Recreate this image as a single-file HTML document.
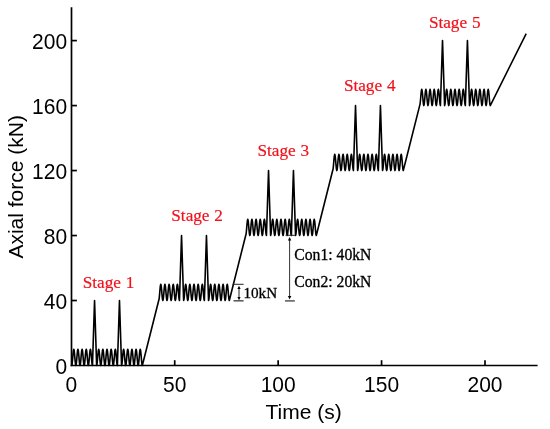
<!DOCTYPE html>
<html><head><meta charset="utf-8"><style>
html,body{margin:0;padding:0;background:#fff;}
body{width:550px;height:429px;overflow:hidden;}
svg{display:block;}
.s{font-family:"Liberation Sans",Arial,sans-serif;font-size:21px;fill:#000;}
.r{font-family:"Liberation Serif","Times New Roman",serif;font-size:17.2px;word-spacing:0.6px;fill:#f2111b;stroke:#f2111b;stroke-width:0.2px;}
.t{font-family:"Liberation Serif","Times New Roman",serif;font-size:15.7px;fill:#000;stroke:#000;stroke-width:0.3px;}
.t2{font-size:15.2px;}
</style></head><body>
<svg width="550" height="429" viewBox="0 0 550 429">
<rect width="550" height="429" fill="#fff"/>
<polyline points="71.71,365.50 72.13,363.95 72.54,359.89 72.96,354.87 73.37,350.81 73.79,349.25 74.20,350.81 74.62,354.87 75.03,359.89 75.45,363.95 75.86,365.50 76.28,363.95 76.69,359.89 77.11,354.87 77.52,350.81 77.94,349.25 78.35,350.81 78.77,354.87 79.19,359.89 79.60,363.95 80.02,365.50 80.43,363.95 80.85,359.89 81.26,354.87 81.68,350.81 82.09,349.25 82.51,350.81 82.92,354.87 83.34,359.89 83.75,363.95 84.17,365.50 84.58,363.95 85.00,359.89 85.41,354.87 85.83,350.81 86.25,349.25 86.66,350.81 87.08,354.87 87.49,359.89 87.91,363.95 88.32,365.50 88.74,363.95 89.15,359.89 89.57,354.87 89.98,350.81 90.40,349.25 90.81,350.81 91.23,354.87 91.64,359.89 92.06,363.95 92.47,365.50 94.55,300.52 96.63,365.50 97.04,363.95 97.46,359.89 97.87,354.87 98.29,350.81 98.70,349.25 99.12,350.81 99.54,354.87 99.95,359.89 100.37,363.95 100.78,365.50 101.20,363.95 101.61,359.89 102.03,354.87 102.44,350.81 102.86,349.25 103.27,350.81 103.69,354.87 104.10,359.89 104.52,363.95 104.93,365.50 105.35,363.95 105.76,359.89 106.18,354.87 106.60,350.81 107.01,349.25 107.43,350.81 107.84,354.87 108.26,359.89 108.67,363.95 109.09,365.50 109.50,363.95 109.92,359.89 110.33,354.87 110.75,350.81 111.16,349.25 111.58,350.81 111.99,354.87 112.41,359.89 112.82,363.95 113.24,365.50 113.66,363.95 114.07,359.89 114.49,354.87 114.90,350.81 115.32,349.25 115.73,350.81 116.15,354.87 116.56,359.89 116.98,363.95 117.39,365.50 119.47,300.52 121.55,365.50 121.96,363.95 122.38,359.89 122.79,354.87 123.21,350.81 123.62,349.25 124.04,350.81 124.45,354.87 124.87,359.89 125.28,363.95 125.70,365.50 126.11,363.95 126.53,359.89 126.94,354.87 127.36,350.81 127.78,349.25 128.19,350.81 128.61,354.87 129.02,359.89 129.44,363.95 129.85,365.50 130.27,363.95 130.68,359.89 131.10,354.87 131.51,350.81 131.93,349.25 132.34,350.81 132.76,354.87 133.17,359.89 133.59,363.95 134.00,365.50 134.42,363.95 134.84,359.89 135.25,354.87 135.67,350.81 136.08,349.25 136.50,350.81 136.91,354.87 137.33,359.89 137.74,363.95 138.16,365.50 138.57,363.95 138.99,359.89 139.40,354.87 139.82,350.81 140.23,349.25 140.65,350.81 141.07,354.87 141.48,359.89 141.90,363.95 142.31,365.50 158.70,300.52 159.12,298.97 159.53,294.91 159.95,289.89 160.36,285.83 160.78,284.27 161.19,285.83 161.61,289.89 162.02,294.91 162.44,298.97 162.85,300.52 163.27,298.97 163.68,294.91 164.10,289.89 164.51,285.83 164.93,284.27 165.34,285.83 165.76,289.89 166.18,294.91 166.59,298.97 167.01,300.52 167.42,298.97 167.84,294.91 168.25,289.89 168.67,285.83 169.08,284.27 169.50,285.83 169.91,289.89 170.33,294.91 170.74,298.97 171.16,300.52 171.57,298.97 171.99,294.91 172.40,289.89 172.82,285.83 173.24,284.27 173.65,285.83 174.07,289.89 174.48,294.91 174.90,298.97 175.31,300.52 175.73,298.97 176.14,294.91 176.56,289.89 176.97,285.83 177.39,284.27 177.80,285.83 178.22,289.89 178.63,294.91 179.05,298.97 179.46,300.52 181.54,235.54 183.62,300.52 184.03,298.97 184.45,294.91 184.86,289.89 185.28,285.83 185.69,284.27 186.11,285.83 186.53,289.89 186.94,294.91 187.36,298.97 187.77,300.52 188.19,298.97 188.60,294.91 189.02,289.89 189.43,285.83 189.85,284.27 190.26,285.83 190.68,289.89 191.09,294.91 191.51,298.97 191.92,300.52 192.34,298.97 192.75,294.91 193.17,289.89 193.59,285.83 194.00,284.27 194.42,285.83 194.83,289.89 195.25,294.91 195.66,298.97 196.08,300.52 196.49,298.97 196.91,294.91 197.32,289.89 197.74,285.83 198.15,284.27 198.57,285.83 198.98,289.89 199.40,294.91 199.81,298.97 200.23,300.52 200.65,298.97 201.06,294.91 201.48,289.89 201.89,285.83 202.31,284.27 202.72,285.83 203.14,289.89 203.55,294.91 203.97,298.97 204.38,300.52 206.46,235.54 208.54,300.52 208.95,298.97 209.37,294.91 209.78,289.89 210.20,285.83 210.61,284.27 211.03,285.83 211.44,289.89 211.86,294.91 212.27,298.97 212.69,300.52 213.10,298.97 213.52,294.91 213.93,289.89 214.35,285.83 214.77,284.27 215.18,285.83 215.60,289.89 216.01,294.91 216.43,298.97 216.84,300.52 217.26,298.97 217.67,294.91 218.09,289.89 218.50,285.83 218.92,284.27 219.33,285.83 219.75,289.89 220.16,294.91 220.58,298.97 220.99,300.52 221.41,298.97 221.83,294.91 222.24,289.89 222.66,285.83 223.07,284.27 223.49,285.83 223.90,289.89 224.32,294.91 224.73,298.97 225.15,300.52 225.56,298.97 225.98,294.91 226.39,289.89 226.81,285.83 227.22,284.27 227.64,285.83 228.06,289.89 228.47,294.91 228.89,298.97 229.30,300.52 245.69,235.54 246.11,233.99 246.52,229.93 246.94,224.91 247.35,220.85 247.77,219.29 248.18,220.85 248.60,224.91 249.01,229.93 249.43,233.99 249.84,235.54 250.26,233.99 250.67,229.93 251.09,224.91 251.50,220.85 251.92,219.29 252.33,220.85 252.75,224.91 253.17,229.93 253.58,233.99 254.00,235.54 254.41,233.99 254.83,229.93 255.24,224.91 255.66,220.85 256.07,219.29 256.49,220.85 256.90,224.91 257.32,229.93 257.73,233.99 258.15,235.54 258.56,233.99 258.98,229.93 259.39,224.91 259.81,220.85 260.23,219.29 260.64,220.85 261.06,224.91 261.47,229.93 261.89,233.99 262.30,235.54 262.72,233.99 263.13,229.93 263.55,224.91 263.96,220.85 264.38,219.29 264.79,220.85 265.21,224.91 265.62,229.93 266.04,233.99 266.45,235.54 268.53,170.56 270.61,235.54 271.02,233.99 271.44,229.93 271.85,224.91 272.27,220.85 272.68,219.29 273.10,220.85 273.52,224.91 273.93,229.93 274.35,233.99 274.76,235.54 275.18,233.99 275.59,229.93 276.01,224.91 276.42,220.85 276.84,219.29 277.25,220.85 277.67,224.91 278.08,229.93 278.50,233.99 278.91,235.54 279.33,233.99 279.74,229.93 280.16,224.91 280.58,220.85 280.99,219.29 281.41,220.85 281.82,224.91 282.24,229.93 282.65,233.99 283.07,235.54 283.48,233.99 283.90,229.93 284.31,224.91 284.73,220.85 285.14,219.29 285.56,220.85 285.97,224.91 286.39,229.93 286.80,233.99 287.22,235.54 287.64,233.99 288.05,229.93 288.47,224.91 288.88,220.85 289.30,219.29 289.71,220.85 290.13,224.91 290.54,229.93 290.96,233.99 291.37,235.54 293.45,170.56 295.53,235.54 295.94,233.99 296.36,229.93 296.77,224.91 297.19,220.85 297.60,219.29 298.02,220.85 298.43,224.91 298.85,229.93 299.26,233.99 299.68,235.54 300.09,233.99 300.51,229.93 300.92,224.91 301.34,220.85 301.76,219.29 302.17,220.85 302.59,224.91 303.00,229.93 303.42,233.99 303.83,235.54 304.25,233.99 304.66,229.93 305.08,224.91 305.49,220.85 305.91,219.29 306.32,220.85 306.74,224.91 307.15,229.93 307.57,233.99 307.99,235.54 308.40,233.99 308.82,229.93 309.23,224.91 309.65,220.85 310.06,219.29 310.48,220.85 310.89,224.91 311.31,229.93 311.72,233.99 312.14,235.54 312.55,233.99 312.97,229.93 313.38,224.91 313.80,220.85 314.21,219.29 314.63,220.85 315.05,224.91 315.46,229.93 315.88,233.99 316.29,235.54 332.68,170.56 333.10,169.01 333.51,164.95 333.93,159.93 334.34,155.87 334.76,154.31 335.17,155.87 335.59,159.93 336.00,164.95 336.42,169.01 336.83,170.56 337.25,169.01 337.66,164.95 338.08,159.93 338.49,155.87 338.91,154.31 339.32,155.87 339.74,159.93 340.16,164.95 340.57,169.01 340.99,170.56 341.40,169.01 341.82,164.95 342.23,159.93 342.65,155.87 343.06,154.31 343.48,155.87 343.89,159.93 344.31,164.95 344.72,169.01 345.14,170.56 345.55,169.01 345.97,164.95 346.38,159.93 346.80,155.87 347.22,154.31 347.63,155.87 348.05,159.93 348.46,164.95 348.88,169.01 349.29,170.56 349.71,169.01 350.12,164.95 350.54,159.93 350.95,155.87 351.37,154.31 351.78,155.87 352.20,159.93 352.61,164.95 353.03,169.01 353.44,170.56 355.52,105.58 357.60,170.56 358.01,169.01 358.43,164.95 358.84,159.93 359.26,155.87 359.67,154.31 360.09,155.87 360.51,159.93 360.92,164.95 361.34,169.01 361.75,170.56 362.17,169.01 362.58,164.95 363.00,159.93 363.41,155.87 363.83,154.31 364.24,155.87 364.66,159.93 365.07,164.95 365.49,169.01 365.90,170.56 366.32,169.01 366.73,164.95 367.15,159.93 367.57,155.87 367.98,154.31 368.40,155.87 368.81,159.93 369.23,164.95 369.64,169.01 370.06,170.56 370.47,169.01 370.89,164.95 371.30,159.93 371.72,155.87 372.13,154.31 372.55,155.87 372.96,159.93 373.38,164.95 373.79,169.01 374.21,170.56 374.63,169.01 375.04,164.95 375.46,159.93 375.87,155.87 376.29,154.31 376.70,155.87 377.12,159.93 377.53,164.95 377.95,169.01 378.36,170.56 380.44,105.58 382.52,170.56 382.93,169.01 383.35,164.95 383.76,159.93 384.18,155.87 384.59,154.31 385.01,155.87 385.42,159.93 385.84,164.95 386.25,169.01 386.67,170.56 387.08,169.01 387.50,164.95 387.91,159.93 388.33,155.87 388.75,154.31 389.16,155.87 389.58,159.93 389.99,164.95 390.41,169.01 390.82,170.56 391.24,169.01 391.65,164.95 392.07,159.93 392.48,155.87 392.90,154.31 393.31,155.87 393.73,159.93 394.14,164.95 394.56,169.01 394.97,170.56 395.39,169.01 395.81,164.95 396.22,159.93 396.64,155.87 397.05,154.31 397.47,155.87 397.88,159.93 398.30,164.95 398.71,169.01 399.13,170.56 399.54,169.01 399.96,164.95 400.37,159.93 400.79,155.87 401.20,154.31 401.62,155.87 402.04,159.93 402.45,164.95 402.87,169.01 403.28,170.56 419.67,105.58 420.09,104.03 420.50,99.97 420.92,94.95 421.33,90.89 421.75,89.33 422.16,90.89 422.58,94.95 422.99,99.97 423.41,104.03 423.82,105.58 424.24,104.03 424.65,99.97 425.07,94.95 425.48,90.89 425.90,89.33 426.31,90.89 426.73,94.95 427.15,99.97 427.56,104.03 427.98,105.58 428.39,104.03 428.81,99.97 429.22,94.95 429.64,90.89 430.05,89.33 430.47,90.89 430.88,94.95 431.30,99.97 431.71,104.03 432.13,105.58 432.54,104.03 432.96,99.97 433.37,94.95 433.79,90.89 434.21,89.33 434.62,90.89 435.04,94.95 435.45,99.97 435.87,104.03 436.28,105.58 436.70,104.03 437.11,99.97 437.53,94.95 437.94,90.89 438.36,89.33 438.77,90.89 439.19,94.95 439.60,99.97 440.02,104.03 440.43,105.58 442.51,40.60 444.59,105.58 445.00,104.03 445.42,99.97 445.83,94.95 446.25,90.89 446.66,89.33 447.08,90.89 447.50,94.95 447.91,99.97 448.33,104.03 448.74,105.58 449.16,104.03 449.57,99.97 449.99,94.95 450.40,90.89 450.82,89.33 451.23,90.89 451.65,94.95 452.06,99.97 452.48,104.03 452.89,105.58 453.31,104.03 453.72,99.97 454.14,94.95 454.56,90.89 454.97,89.33 455.39,90.89 455.80,94.95 456.22,99.97 456.63,104.03 457.05,105.58 457.46,104.03 457.88,99.97 458.29,94.95 458.71,90.89 459.12,89.33 459.54,90.89 459.95,94.95 460.37,99.97 460.78,104.03 461.20,105.58 461.62,104.03 462.03,99.97 462.45,94.95 462.86,90.89 463.28,89.33 463.69,90.89 464.11,94.95 464.52,99.97 464.94,104.03 465.35,105.58 467.43,40.60 469.51,105.58 469.92,104.03 470.34,99.97 470.75,94.95 471.17,90.89 471.58,89.33 472.00,90.89 472.41,94.95 472.83,99.97 473.24,104.03 473.66,105.58 474.07,104.03 474.49,99.97 474.90,94.95 475.32,90.89 475.74,89.33 476.15,90.89 476.57,94.95 476.98,99.97 477.40,104.03 477.81,105.58 478.23,104.03 478.64,99.97 479.06,94.95 479.47,90.89 479.89,89.33 480.30,90.89 480.72,94.95 481.13,99.97 481.55,104.03 481.96,105.58 482.38,104.03 482.80,99.97 483.21,94.95 483.63,90.89 484.04,89.33 484.46,90.89 484.87,94.95 485.29,99.97 485.70,104.03 486.12,105.58 486.53,104.03 486.95,99.97 487.36,94.95 487.78,90.89 488.19,89.33 488.61,90.89 489.03,94.95 489.44,99.97 489.86,104.03 490.27,105.58 526.20,33.61" fill="none" stroke="#000" stroke-width="1.6" stroke-linejoin="round"/>
<g stroke="#000" stroke-width="1.7" fill="none">
<line x1="71.5" y1="7.3" x2="71.5" y2="366.3"/>
<line x1="70.65" y1="365.5" x2="537.6" y2="365.5"/>
<line x1="71.5" y1="300.52" x2="76.9" y2="300.52"/><line x1="71.5" y1="235.54" x2="76.9" y2="235.54"/><line x1="71.5" y1="170.56" x2="76.9" y2="170.56"/><line x1="71.5" y1="105.58" x2="76.9" y2="105.58"/><line x1="71.5" y1="40.60" x2="76.9" y2="40.60"/><line x1="174.72" y1="365.5" x2="174.72" y2="360.2"/><line x1="278.15" y1="365.5" x2="278.15" y2="360.2"/><line x1="381.57" y1="365.5" x2="381.57" y2="360.2"/><line x1="485.00" y1="365.5" x2="485.00" y2="360.2"/>
</g>
<g class="s"><text transform="translate(67.1,373.95) scale(1,1.07)" text-anchor="end">0</text><text transform="translate(67.1,308.97) scale(1,1.07)" text-anchor="end">40</text><text transform="translate(67.1,243.99) scale(1,1.07)" text-anchor="end">80</text><text transform="translate(67.1,179.01) scale(1,1.07)" text-anchor="end">120</text><text transform="translate(67.1,114.03) scale(1,1.07)" text-anchor="end">160</text><text transform="translate(67.1,49.05) scale(1,1.07)" text-anchor="end">200</text><text transform="translate(71.30,392.0) scale(1,1.07)" text-anchor="middle">0</text><text transform="translate(174.72,392.0) scale(1,1.07)" text-anchor="middle">50</text><text transform="translate(278.15,392.0) scale(1,1.07)" text-anchor="middle">100</text><text transform="translate(381.57,392.0) scale(1,1.07)" text-anchor="middle">150</text><text transform="translate(485.00,392.0) scale(1,1.07)" text-anchor="middle">200</text>
<text x="303.6" y="418.7" text-anchor="middle">Time (s)</text>
<text transform="translate(22.7,186.8) rotate(-90)" text-anchor="middle">Axial force (kN)</text>
</g>
<g class="r">
<text transform="translate(82.7,287.8) scale(1,1.03)">Stage 1</text>
<text transform="translate(171.3,221.0) scale(1,1.03)">Stage 2</text>
<text transform="translate(257.5,155.8) scale(1,1.03)">Stage 3</text>
<text transform="translate(343.9,91.4) scale(1,1.03)">Stage 4</text>
<text transform="translate(428.9,27.5) scale(1,1.03)">Stage 5</text>
</g>
<!-- 10kN annotation -->
<g stroke="#222" stroke-width="1" fill="none">
<line x1="232.6" y1="284.3" x2="243.6" y2="284.3"/>
<line x1="233.5" y1="300.8" x2="243.6" y2="300.8" stroke="#555" stroke-width="1.5"/>
<line x1="239" y1="287.5" x2="239" y2="298.5" stroke="#555" stroke-width="1.3"/>
<line x1="285.5" y1="235.3" x2="294.9" y2="235.3"/>
<line x1="289.6" y1="238.5" x2="289.6" y2="297.5" stroke="#333"/>
<line x1="285" y1="300.9" x2="294.8" y2="300.9" stroke="#555" stroke-width="1.5"/>
</g>
<g fill="#000">
<polygon points="239,285.7 237.4,289.0 240.6,289.0"/>
<polygon points="239,300.2 237.4,296.9 240.6,296.9"/>
<polygon points="289.6,237.1 287.9,240.4 291.3,240.4"/>
<polygon points="289.6,299.4 287.9,296.1 291.3,296.1"/>
</g>
<g class="t">
<text class="t2" x="243.4" y="298.2">10kN</text>
<text x="294.3" y="259.6">Con1: 40kN</text>
<text x="294.3" y="287.0">Con2: 20kN</text>
</g>
</svg>
</body></html>
